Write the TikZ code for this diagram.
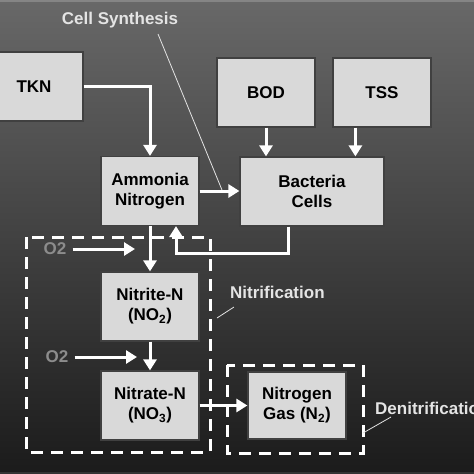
\documentclass[tikz,border=0pt]{standalone}
\usepackage{fontspec}
\setmainfont{Liberation Sans}
\usetikzlibrary{arrows.meta, positioning, calc}
\definecolor{bgtop}{HTML}{686868}
\definecolor{bgbottom}{HTML}{1B1B1B}
\definecolor{boxfill}{HTML}{D9D9D9}
\definecolor{labelgray}{HTML}{E4E4E4}
\definecolor{oxgray}{HTML}{8C8C8C}

\begin{document}
\begin{tikzpicture}[
    x=1pt, y=-1pt,
    box/.style={rectangle, draw=black!75, line width=1.2pt, fill=boxfill, minimum width=98pt, minimum height=69pt, inner sep=0pt, align=center, font=\fontsize{17}{20}\selectfont\bfseries},
    tag/.style={inner sep=0pt, text=labelgray, font=\fontsize{17}{20}\selectfont\bfseries},
    oxtag/.style={inner sep=0pt, text=oxgray, font=\fontsize{17}{20}\selectfont\bfseries},
    arrow/.style={-{Triangle[length=11pt, width=13pt]}, draw=white, line width=3pt},
    zone/.style={draw=white, line width=3pt, dash pattern=on 12pt off 8pt},
    leader/.style={draw=labelgray, line width=0.8pt}
]
\useasboundingbox (0,0) rectangle (474,474);
\clip (0,0) rectangle (474,474);

% Background
\fill[top color=bgtop, bottom color=bgbottom] (0,0) rectangle (474,474);
\fill[black!48] (0,0) rectangle (474,2);
\fill[black!80] (0,472) rectangle (474,474);

% Boxes
\node[box] (tkn) at (34,86.5) {TKN};
\node[box] (bod) at (266,92.5) {BOD};
\node[box] (tss) at (382,92.5) {TSS};
\node[box] (amm) at (150,191) {Ammonia\\Nitrogen};
\node[box, minimum width=144pt] (bact) at (312,191.5) {Bacteria\\Cells};
\node[box] (nitrite) at (150,306.5) {Nitrite-N\\(NO\textsubscript{2})};
\node[box] (nitrate) at (150,405.5) {Nitrate-N\\(NO\textsubscript{3})};
\node[box, minimum height=67pt] (ngas) at (297,405.5) {Nitrogen\\Gas (N\textsubscript{2})};

% Process zones
\draw[zone] (26,237) rectangle (210,452);
\draw[zone] (227,365) rectangle (363,453);

% Labels
\node[tag] (cellsyn) at (120,20) {Cell Synthesis};
\node[tag, anchor=west] (nitrif) at (230,292) {Nitrification};
\node[tag, anchor=west] (denitrif) at (375,408) {Denitrification};
\node[oxtag] (o2a) at (55,249) {O2};
\node[oxtag] (o2b) at (57,357) {O2};

% Leader lines
\coordinate (cellend) at (222,190);
\draw[leader] ([xshift=38pt, yshift=-14pt]cellsyn.center) -- (cellend);
\draw[leader] (217,318) -- ([yshift=-15pt]nitrif.west -| 234,0);
\draw[leader] (363,433) -- (391,417);

% Flows
\draw[arrow] (tkn.east) -| (amm.north);
\draw[arrow] (bod.south) -- (bod.south |- bact.north);
\draw[arrow] ([xshift=23pt]tss.south west) -- ([xshift=23pt]tss.south west |- bact.north);
\draw[arrow] (amm.east) -- (amm.east -| bact.west);
\coordinate (retcorner) at (176,253);
\draw[arrow] ([xshift=49pt]bact.south west) |- (retcorner) -- (retcorner |- amm.south);
\draw[arrow] (amm.south) -- (nitrite.north);
\draw[arrow] (nitrite.south) -- (nitrate.north);
\draw[arrow] (nitrate.east) -- (nitrate.east -| ngas.west);
\coordinate (o2aend) at (135,249);
\coordinate (o2bend) at (137,357);
\draw[arrow] ([xshift=6pt]o2a.east) -- (o2aend);
\draw[arrow] ([xshift=6pt]o2b.east) -- (o2bend);

\end{tikzpicture}
\end{document}
